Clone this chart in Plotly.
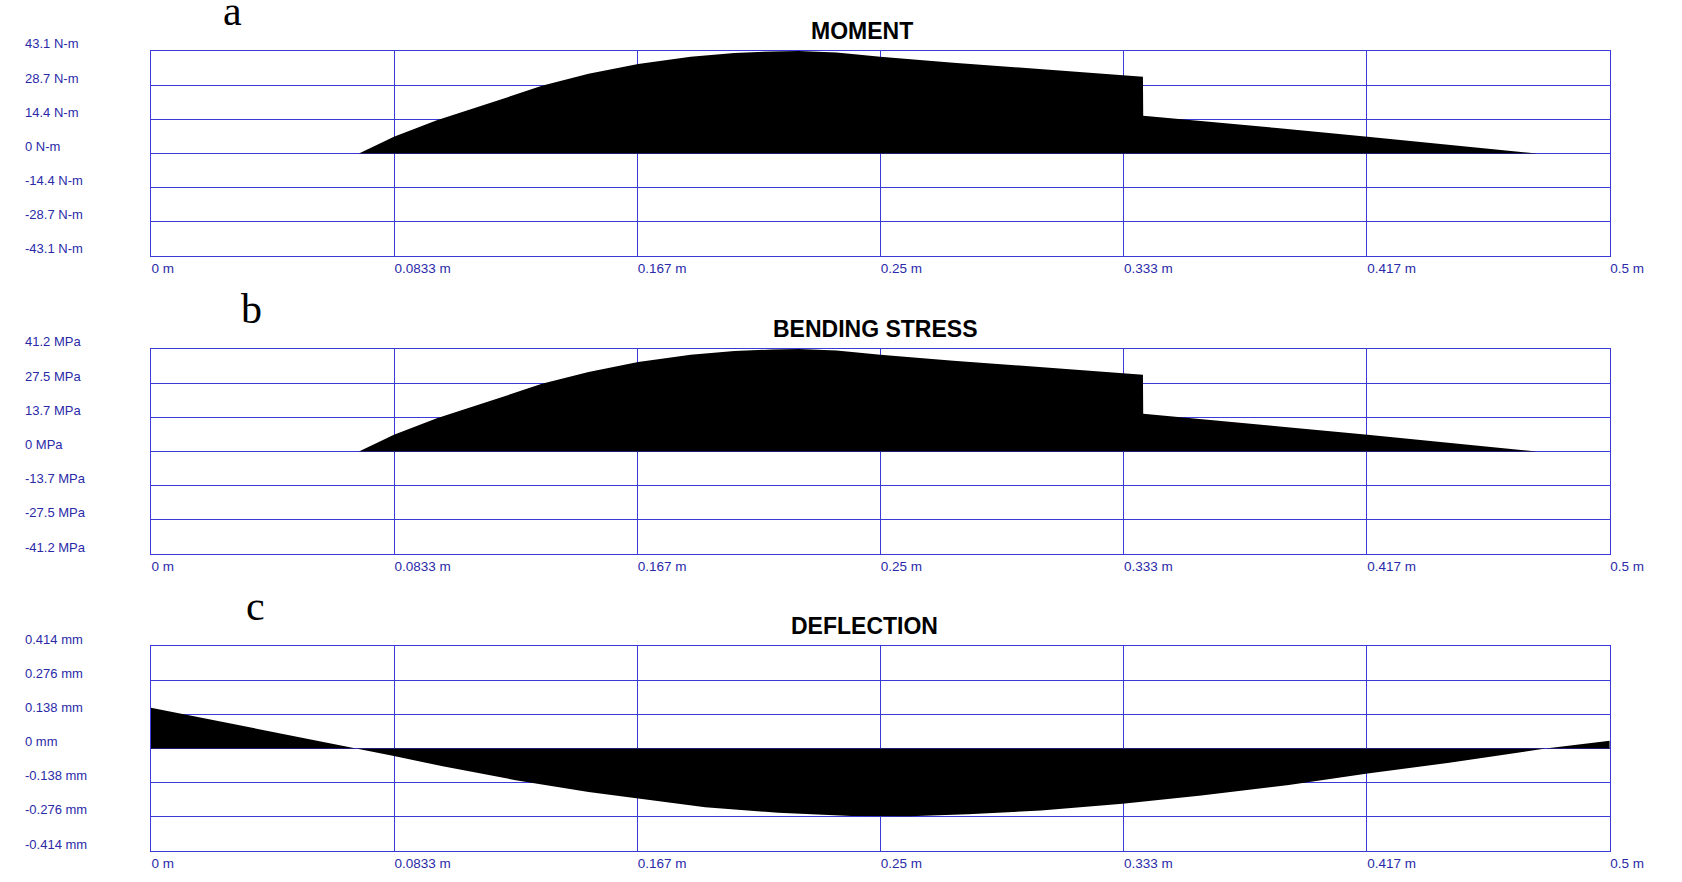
import plotly.graph_objects as go

W, H = 1682, 882

# beam positions (m)
x_tick_vals = [0, 1 / 12, 1 / 6, 0.25, 1 / 3, 5 / 12, 0.5]
x_tick_text = ["0 m", "0.0833 m", "0.167 m", "0.25 m", "0.333 m", "0.417 m", "0.5 m"]

# moment diagram (N-m)
moment_x = [0, 0.0713, 0.0833, 0.098, 0.117, 0.134, 0.150, 0.167, 0.185, 0.200, 0.213,
            0.222, 0.235, 0.250, 0.275, 0.300, 0.333, 0.340, 0.3401, 0.360, 0.385, 0.417,
            0.445, 0.475, 0.500]
moment_y = [0, 0, 7.0, 14.0, 21.5, 28.5, 33.5, 37.6, 40.7, 42.3, 42.9,
            43.1, 42.5, 40.7, 38.2, 35.9, 33.0, 32.3, 15.9, 13.5, 10.8, 7.0,
            3.6, 0, 0]
moment_ticks = [-43.1, -28.7, -14.4, 0, 14.4, 28.7, 43.1]
moment_labels = ["-43.1 N-m", "-28.7 N-m", "-14.4 N-m", "0 N-m", "14.4 N-m", "28.7 N-m", "43.1 N-m"]

# bending stress (MPa)
stress_x = moment_x
stress_y = [0, 0, 6.7, 13.4, 20.6, 27.2, 32.0, 36.0, 38.9, 40.4, 41.0,
            41.2, 40.6, 38.9, 36.5, 34.3, 31.5, 30.9, 15.2, 12.9, 10.3, 6.7,
            3.4, 0, 0]
stress_ticks = [-41.2, -27.5, -13.7, 0, 13.7, 27.5, 41.2]
stress_labels = ["-41.2 MPa", "-27.5 MPa", "-13.7 MPa", "0 MPa", "13.7 MPa", "27.5 MPa", "41.2 MPa"]

# deflection (mm)
defl_x = [0, 0.02, 0.04, 0.0714, 0.0833, 0.10, 0.125, 0.15, 0.167, 0.19, 0.215,
          0.24, 0.26, 0.28, 0.305, 0.333, 0.36, 0.39, 0.417, 0.445, 0.478, 0.5]
defl_y = [0.165, 0.118, 0.072, 0, -0.030, -0.072, -0.128, -0.176, -0.203, -0.237, -0.260,
          -0.273, -0.274, -0.266, -0.250, -0.223, -0.190, -0.147, -0.101, -0.058, 0, 0.031]
defl_ticks = [-0.414, -0.276, -0.138, 0, 0.138, 0.276, 0.414]
defl_labels = ["-0.414 mm", "-0.276 mm", "-0.138 mm", "0 mm", "0.138 mm", "0.276 mm", "0.414 mm"]

panels = [
    ("MOMENT", "a", moment_x, moment_y, moment_ticks, moment_labels, 51, 880),
    ("BENDING STRESS", "b", stress_x, stress_y, stress_ticks, stress_labels, 349, 893),
    ("DEFLECTION", "c", defl_x, defl_y, defl_ticks, defl_labels, 646, 882),
]
letter_x = [237, 257, 261]

GRID = "#3a3ad8"
LABEL = "#2a2aa8"
LEFT, RIGHT, PH = 154, 1643, 205
SANS = "Liberation Sans, Arial, sans-serif"

fig = go.Figure()
annotations = []
for i, (title, letter, xs, ys, ticks, labels, top, tx) in enumerate(panels):
    n = "" if i == 0 else str(i + 1)
    # filled diagram, no outline so the zero gridline stays blue
    fig.add_trace(go.Scatter(
        x=xs, y=ys, mode="lines", fill="tozeroy",
        fillcolor="black", line=dict(color="black", width=0),
        xaxis="x" + n, yaxis="y" + n, showlegend=False, hoverinfo="skip",
    ))
    dom_y = [1 - (top + PH) / H, 1 - top / H]
    fig.layout["xaxis" + n] = dict(
        domain=[LEFT / W, RIGHT / W], range=[0, 0.5], anchor="y" + n,
        tickvals=x_tick_vals, ticktext=x_tick_text, ticks="",
        ticklabelposition="outside right", showgrid=True, gridcolor=GRID, gridwidth=1,
        showline=True, linecolor=GRID, linewidth=1, mirror=True, zeroline=False,
        tickfont=dict(family=SANS, size=13.5, color=LABEL),
        fixedrange=True,
    )
    fig.layout["yaxis" + n] = dict(
        domain=dom_y, range=[ticks[0], ticks[-1]], anchor="x" + n,
        tickvals=ticks, showticklabels=False, ticks="",
        showgrid=True, gridcolor=GRID, gridwidth=1,
        showline=True, linecolor=GRID, linewidth=1, mirror=True, zeroline=False,
        fixedrange=True,
    )
    for v, lab in zip(ticks, labels):
        annotations.append(dict(
            x=23 / W, xref="paper", xanchor="left", y=v, yref="y" + n, yanchor="middle",
            yshift=7, text=lab, showarrow=False,
            font=dict(family=SANS, size=13, color=LABEL),
        ))
    annotations.append(dict(
        x=tx / W, xref="paper", xanchor="center", y=1 - (top - 5) / H, yref="paper",
        yanchor="bottom", text="<b>%s</b>" % title, showarrow=False,
        font=dict(family=SANS, size=23, color="black"),
    ))
    annotations.append(dict(
        x=letter_x[i] / W, xref="paper", xanchor="center", y=1 - (top - 15) / H, yref="paper",
        yanchor="bottom", text=letter, showarrow=False,
        font=dict(family="Liberation Serif, Times New Roman, serif", size=42, color="black"),
    ))

fig.update_layout(
    width=W, height=H, margin=dict(l=0, r=0, t=0, b=0),
    paper_bgcolor="white", plot_bgcolor="white",
    annotations=annotations,
)

fig.write_html(
    "out.html",
    config={"displayModeBar": False},
    post_script="document.body.style.margin='0';document.body.style.overflow='hidden';",
)
